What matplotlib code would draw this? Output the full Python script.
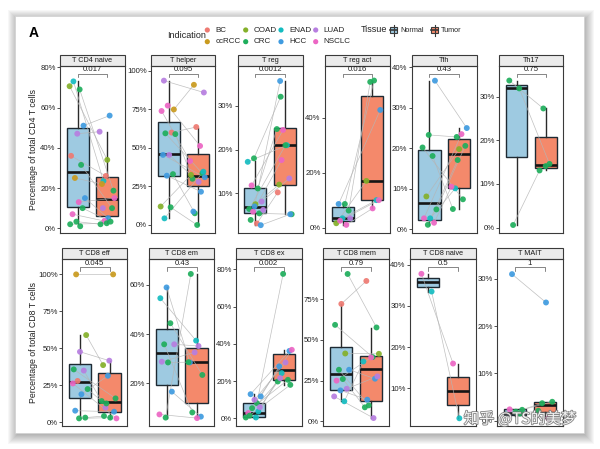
import numpy as np
import matplotlib.pyplot as plt
import matplotlib.patheffects as pe
from matplotlib.patches import Rectangle
from matplotlib.ticker import FuncFormatter

plt.rcParams['font.family'] = ['Liberation Sans', 'DejaVu Sans']

# legend keys
indications = ["BC", "ccRCC", "COAD", "CRC", "ENAD", "HCC", "LUAD", "NSCLC"]
ind_colors = ["#ee7a72", "#c99a1e", "#84b02a", "#1fae5c", "#14bcc0", "#3f9be0", "#b77ee0", "#ec66c4"]
tissues = ["Normal", "Tumor"]
tissue_colors = ["#9ecae1", "#f4896b"]

panels = ["T CD4 naive", "T helper", "T reg", "T reg act", "Tfh", "Th17",
          "T CD8 eff", "T CD8 em", "T CD8 ex", "T CD8 mem", "T CD8 naive", "T MAIT"]
p_values = ["0.017", "0.095", "0.0012", "0.016", "0.43", "0.75",
            "0.045", "0.43", "0.002", "0.79", "0.5", "1"]
y_labels = ["Percentage of total CD4 T cells", "Percentage of total CD8 T cells"]

nan = np.nan
# (indication, normal %, tumor %) per sample
t_cd4_naive = [("COAD", 70.6, 34.0), ("CRC", 69.0, 18.7), ("ENAD", 73.0, 23.5), ("HCC", 51.0, 56.0),
               ("LUAD", 47.0, 48.0), ("BC", 36.0, 26.0), ("CRC", 31.5, 10.0), ("ccRCC", 25.0, 22.0),
               ("HCC", 15.0, 5.0), ("NSCLC", 13.0, 15.0), ("NSCLC", 7.0, 3.6), ("CRC", 10.0, 3.3),
               ("CRC", 3.3, 2.0), ("CRC", 2.0, 2.5), ("CRC", 1.0, nan), ("LUAD", nan, 10.0)]
t_helper = [("LUAD", 93.7, 86.0), ("ccRCC", 75.0, 91.0), ("NSCLC", 77.5, 51.3), ("NSCLC", 74.0, 41.5),
            ("BC", 60.0, 63.6), ("CRC", 59.5, 33.5), ("CRC", 59.0, 30.0), ("LUAD", 45.5, 28.0),
            ("HCC", 45.5, 31.0), ("CRC", 33.0, 7.6), ("HCC", 32.0, 21.6), ("COAD", 12.0, 32.5),
            ("CRC", 11.5, 0.0), ("ENAD", 4.3, 34.6), ("HCC", nan, 8.7)]
t_reg = [("CRC", 18.0, 32.1), ("ENAD", 17.2, 21.0), ("CRC", 11.1, 24.7), ("NSCLC", 11.8, 24.5),
         ("LUAD", 8.1, 13.4), ("COAD", 7.5, 12.0), ("CRC", 6.4, 21.0), ("CRC", 5.4, 5.2),
         ("NSCLC", 5.8, 17.6), ("LUAD", 6.2, nan), ("BC", 3.1, 10.2), ("CRC", 3.9, nan),
         ("HCC", 2.7, 5.2), ("HCC", 7.0, 35.7)]
t_reg_act = [("CRC", 8.6, 53.5), ("HCC", 8.6, 42.8), ("CRC", 6.2, 53.0), ("ENAD", 3.4, 10.0),
             ("COAD", 1.6, 17.0), ("NSCLC", 1.0, 7.0), ("NSCLC", 2.5, 10.0), ("LUAD", 3.4, nan)]
tfh = [("HCC", 36.7, 25.0), ("CRC", 23.3, 22.8), ("CRC", 20.2, 7.4), ("CRC", 18.1, 5.0),
       ("COAD", 8.1, 19.8), ("CRC", 4.9, 20.6), ("ENAD", 2.7, 10.1), ("NSCLC", 2.7, 23.5),
       ("NSCLC", 1.6, 10.5), ("CRC", 1.1, 17.1)]
th17 = [("CRC", 33.7, 27.3), ("CRC", 31.9, 14.6), ("CRC", 0.6, 13.1), ("CRC", nan, 14.1)]
t_cd8_eff = [("ccRCC", 100.0, 100.0), ("COAD", 59.0, 38.7), ("LUAD", 47.7, 41.7), ("CRC", 35.8, 16.2),
             ("LUAD", 35.0, 9.9), ("BC", 28.0, nan), ("CRC", 22.5, 14.4), ("HCC", 19.0, 31.5),
             ("HCC", 7.9, 7.2), ("CRC", 3.2, 4.3), ("CRC", 2.7, 3.2), ("NSCLC", 26.3, 2.7),
             ("CRC", nan, 12.8)]
t_cd8_em = [("HCC", 59.0, 28.4), ("ENAD", 54.6, 37.3), ("CRC", 44.4, 23.3), ("CRC", 35.8, 8.0),
            ("LUAD", 35.8, 35.1), ("CRC", 28.4, 28.5), ("LUAD", 28.7, 32.5), ("HCC", 16.5, 6.3),
            ("CRC", 5.9, 64.5), ("NSCLC", 7.2, 5.7)]
t_cd8_ex = [("CRC", 8.2, 77.5), ("HCC", 13.0, 36.2), ("HCC", 11.8, 27.9), ("LUAD", 10.0, 30.0),
            ("NSCLC", 2.9, 36.8), ("ENAD", 3.7, 24.3), ("CRC", 5.5, 20.7), ("CRC", 0.5, 19.8),
            ("ENAD", 0.5, nan), ("CRC", 1.5, 18.0), ("LUAD", 6.0, 21.6)]
t_cd8_mem = [("CRC", 90.6, 57.7), ("BC", 72.2, 86.3), ("CRC", 59.3, 39.5), ("COAD", 41.7, 41.5),
             ("CRC", 31.7, 9.8), ("HCC", 31.7, 26.2), ("CRC", 26.0, 8.6), ("NSCLC", 25.0, 39.3),
             ("LUAD", 20.0, 27.6), ("HCC", 19.0, 13.3), ("LUAD", 15.3, 2.0), ("ENAD", 12.3, 36.8)]
t_cd8_naive = [("NSCLC", 37.8, 16.0), ("ENAD", 33.5, 2.7)]
t_mait = [("HCC", 31.0, 25.0), ("CRC", 2.3, 4.0), ("CRC", 1.9, 3.7), ("NSCLC", 2.4, 0.5), ("CRC", 1.5, 2.1)]

panel_rows = [t_cd4_naive, t_helper, t_reg, t_reg_act, tfh, th17,
              t_cd8_eff, t_cd8_em, t_cd8_ex, t_cd8_mem, t_cd8_naive, t_mait]

# box statistics (whisker low, q1, median, q3, whisker high): normal, tumor
box_normal = [(2.0, 10.4, 28.0, 50.0, 73.0), (4.3, 32.0, 46.3, 67.0, 93.7), (2.7, 5.4, 6.9, 11.1, 17.3),
              (1.0, 2.4, 3.4, 7.4, 8.6), (1.1, 2.3, 6.6, 19.5, 36.7), (0.6, 16.1, 31.9, 32.7, 33.7),
              (2.7, 16.2, 27.5, 39.2, 59.0), (5.9, 19.2, 32.1, 42.0, 59.0), (0.0, 1.0, 2.9, 8.2, 13.0),
              (12.3, 19.4, 29.0, 45.4, 72.0), (33.5, 34.5, 35.7, 36.7, 37.8), (1.0, 1.2, 1.7, 2.5, 2.5)]
box_tumor = [(2.5, 6.0, 14.4, 25.3, 47.7), (0.0, 25.0, 31.8, 46.0, 62.8), (5.2, 11.9, 21.1, 24.9, 35.7),
             (7.0, 10.0, 17.0, 47.9, 53.5), (5.0, 10.3, 18.6, 22.2, 25.0), (13.1, 13.6, 14.4, 20.8, 27.3),
             (3.2, 6.8, 14.0, 33.6, 41.7), (6.3, 11.7, 28.4, 34.4, 64.5), (18.0, 20.7, 26.1, 34.6, 36.8),
             (2.0, 12.7, 32.3, 39.9, 57.3), (2.8, 5.9, 9.3, 12.7, 16.0), (0.5, 1.9, 3.3, 4.0, 4.0)]

y_ticks = [[0, 20, 40, 60, 80], [0, 25, 50, 75, 100], [10, 20, 30], [0, 20, 40], [0, 10, 20, 30, 40],
           [0, 10, 20, 30], [0, 25, 50, 75, 100], [20, 40, 60], [0, 20, 40, 60, 80], [0, 25, 50, 75],
           [10, 20, 30, 40], [0, 10, 20, 30]]

# layout (pixels)
W, H = 600, 449
y_lims = [(-2.5, 80.8), (-5.4, 103.4), (0.84, 39.2), (-2.06, 58.9), (-1.0, 40.4), (-1.3, 37.1),
          (-2.25, 110.4), (2.6, 70.6), (-3.9, 85.5), (-2.7, 99.8), (0.9, 41.4), (-1.06, 34.2)]
cols = [[(60, 125), (151, 215.5), (237.5, 302.7), (325, 390), (411.7, 476.7), (499, 563.3)],
        [(62.3, 127.3), (149.3, 214.3), (236, 301.7), (323.3, 389), (410, 476), (497.3, 562.7)]]
rows_px = [(65.7, 233.3), (259, 425.7)]
strip_h = 10.7
edge = "#3a3a3a"

fig = plt.figure(figsize=(6, 4.49), dpi=100)
fig.patch.set_facecolor("white")

bg = fig.add_axes([0, 0, 1, 1], zorder=-5)
bg.set_xlim(0, W)
bg.set_ylim(H, 0)
bg.axis("off")
# card with soft shadow
for k in range(10, 0, -1):
    bg.add_patch(Rectangle((15 - k + 3, 16 - k + 4), 569 + 2 * k - 3, 417 + 2 * k - 3,
                           facecolor="#000000", alpha=0.03, edgecolor="none"))
bg.add_patch(Rectangle((15, 16), 569, 417, facecolor="white", edgecolor="#d0d0d0", lw=0.5))

# legend
bg.text(29, 33, "A", fontsize=10, fontweight="bold", va="center", ha="left")
bg.text(167, 36, "Indication", fontsize=6.5, va="center", ha="left", color="#222222")
leg_x = [207.3, 245.7, 281, 315.7]
leg_y = [30, 41.7]
for i, name in enumerate(indications):
    cx, cy = leg_x[i // 2], leg_y[i % 2]
    bg.scatter([cx], [cy], s=14, color=ind_colors[i], edgecolors="none")
    bg.text(cx + 8, cy, name, fontsize=5.8, va="center", ha="left", color="#222222")
bg.text(361, 30, "Tissue", fontsize=6.5, va="center", ha="left", color="#222222")
for tx, name, col in [(393.5, "Normal", tissue_colors[0]), (434.5, "Tumor", tissue_colors[1])]:
    bg.plot([tx, tx], [24.5, 35.5], color=edge, lw=0.8)
    bg.add_patch(Rectangle((tx - 3.8, 26.8), 7.6, 6.4, facecolor=col, edgecolor=edge, lw=0.8))
    bg.plot([tx - 3.8, tx + 3.8], [30, 30], color=edge, lw=1.2)
    bg.text(tx + 6.5, 30, name, fontsize=5.2, va="center", ha="left", color="#222222")

ind_index = {n: i for i, n in enumerate(indications)}
pct = FuncFormatter(lambda v, pos: f"{v:g}%")

for pi, name in enumerate(panels):
    r, c = divmod(pi, 6)
    l, rt = cols[r][c]
    t, b = rows_px[r]
    ax = fig.add_axes([l / W, 1 - b / H, (rt - l) / W, (b - t) / H])
    lo, hi = y_lims[pi]
    ax.set_xlim(0.4, 2.6)
    ax.set_ylim(lo, hi)

    stats = []
    for s in (box_normal[pi], box_tumor[pi]):
        stats.append(dict(whislo=s[0], q1=s[1], med=s[2], q3=s[3], whishi=s[4], fliers=[]))
    bp = ax.bxp(stats, positions=[1, 2], widths=0.75, patch_artist=True, showfliers=False,
                showcaps=False,
                boxprops=dict(edgecolor="#1e2a33", lw=1.0),
                medianprops=dict(color="#151515", lw=1.9),
                whiskerprops=dict(color="#2a2a2a", lw=1.0), zorder=2)
    for patch, col in zip(bp["boxes"], tissue_colors):
        patch.set_facecolor(col)

    data = panel_rows[pi]
    for j, (ind, nv, tv) in enumerate(data):
        col = ind_colors[ind_index[ind]]
        jn = ((j * 0.618 + pi * 0.21) % 1 - 0.5) * 0.55
        jt = ((j * 0.382 + pi * 0.37 + 0.5) % 1 - 0.5) * 0.55
        if not np.isnan(nv) and not np.isnan(tv):
            ax.plot([1 + jn, 2 + jt], [nv, tv], color="#b5b5b5", lw=0.5, alpha=0.85, zorder=3)
        if not np.isnan(nv):
            ax.scatter([1 + jn], [nv], s=18, color=col, edgecolors="none", alpha=0.92, zorder=4)
        if not np.isnan(tv):
            ax.scatter([2 + jt], [tv], s=18, color=col, edgecolors="none", alpha=0.92, zorder=4)

    # p-value bracket
    rng = hi - lo
    by = hi - 0.05 * rng
    ax.plot([1, 1, 2, 2], [by - 0.02 * rng, by, by, by - 0.02 * rng], color="#555555", lw=0.5, zorder=5)
    ax.text(1.5, by + 0.004 * rng, p_values[pi], ha="center", va="bottom", fontsize=5.6, color="#222222")

    ax.set_xticks([])
    ax.set_yticks(y_ticks[pi])
    ax.yaxis.set_major_formatter(pct)
    ax.tick_params(axis="y", labelsize=5.6, length=2, width=0.6, colors="#333333", pad=1.2,
                   labelcolor="#222222")
    for sp in ax.spines.values():
        sp.set_color(edge)
        sp.set_linewidth(0.8)
    # strip
    sh = strip_h / (b - t)
    ax.add_patch(Rectangle((0, 1), 1, sh, transform=ax.transAxes, clip_on=False,
                           facecolor="#ebebeb", edgecolor=edge, lw=0.8))
    ax.text(0.5, 1 + sh / 2, name, transform=ax.transAxes, ha="center", va="center",
            fontsize=5.2, color="#1a1a1a")

for r, lab in enumerate(y_labels):
    t, b = rows_px[r]
    fig.text(33.5 / W, 1 - (t + b) / 2 / H, lab, rotation=90, ha="center", va="center",
             fontsize=6.3, color="#222222")

# watermark present in the source image
fig.text(520 / W, 1 - 419 / H, "知乎 @TS的美梦", ha="center", va="center", fontsize=11,
         color="white", alpha=0.9, family=["Noto Sans CJK SC", "DejaVu Sans"],
         path_effects=[pe.withStroke(linewidth=1.2, foreground="#777777")])

fig.savefig("out.png", dpi=100)
